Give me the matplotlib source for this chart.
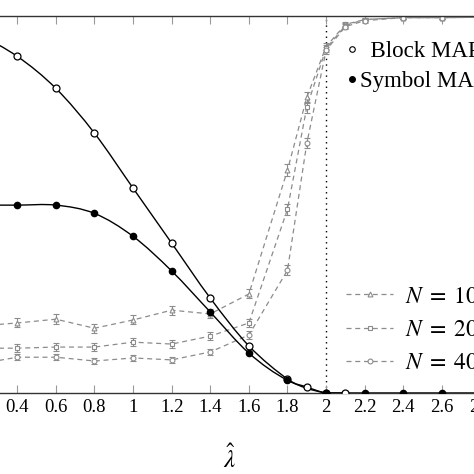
import numpy as np
import matplotlib
matplotlib.use('Agg')
import matplotlib.pyplot as plt
from matplotlib.path import Path
from matplotlib.patches import PathPatch
from matplotlib.lines import Line2D

plt.rcParams['font.family'] = ['Liberation Serif', 'DejaVu Serif']
plt.rcParams['mathtext.fontset'] = 'stix'

# theory curves
lam_block = [0.0, 0.2, 0.4, 0.6, 0.8, 1.0, 1.2, 1.4, 1.6, 1.8, 1.9, 2.0, 2.1]
block_map = [0.98, 0.95, 0.894, 0.809, 0.690, 0.544, 0.398, 0.252, 0.125, 0.037, 0.016, 0.0, 0.0]

lam_symbol = [0.0, 0.2, 0.4, 0.6, 0.8, 1.0, 1.2, 1.4, 1.6, 1.8, 2.0, 2.2, 2.4, 2.6, 2.8, 3.0]
symbol_map = [0.5, 0.499, 0.499, 0.499, 0.477, 0.416, 0.324, 0.215, 0.106, 0.034, 0.0, 0.0, 0.0, 0.0, 0.0, 0.0]

# simulations for N = 10, 20, 40
lam_sim = [0.2, 0.4, 0.6, 0.8, 1.0, 1.2, 1.4, 1.6, 1.8, 1.9, 2.0, 2.1, 2.2, 2.4, 2.6, 2.8]
err_n10 = [0.178, 0.186, 0.196, 0.172, 0.194, 0.220, 0.210, 0.263, 0.592, 0.785, 0.920, 0.979, 0.992, 0.997, 0.997, 0.998]
err_n20 = [0.119, 0.119, 0.122, 0.122, 0.135, 0.130, 0.151, 0.186, 0.488, 0.759, 0.915, 0.976, 0.992, 0.997, 0.997, 0.998]
err_n40 = [0.077, 0.095, 0.095, 0.085, 0.093, 0.088, 0.109, 0.154, 0.326, 0.663, 0.910, 0.973, 0.989, 0.997, 0.997, 0.998]
bar_n10 = [0.012, 0.012, 0.013, 0.012, 0.012, 0.012, 0.012, 0.012, 0.015, 0.015, 0.010, 0.006, 0.005, 0.003, 0.003, 0.003]
bar_n20 = [0.010, 0.010, 0.011, 0.011, 0.010, 0.010, 0.011, 0.011, 0.014, 0.014, 0.010, 0.006, 0.005, 0.003, 0.003, 0.003]
bar_n40 = [0.008, 0.008, 0.008, 0.008, 0.008, 0.008, 0.009, 0.010, 0.013, 0.013, 0.010, 0.006, 0.005, 0.003, 0.003, 0.003]
sim_labels = [r'$N\;=\;10$', r'$N\;=\;20$', r'$N\;=\;40$']


def smooth_path(x, y):
    # catmull-rom through the points, like pgfplots "smooth"
    pts = np.column_stack([x, y]).astype(float)
    n = len(pts)
    verts = [pts[0]]
    codes = [Path.MOVETO]
    for i in range(n - 1):
        p0 = pts[max(i - 1, 0)]
        p1 = pts[i]
        p2 = pts[i + 1]
        p3 = pts[min(i + 2, n - 1)]
        c1 = p1 + (p2 - p0) / 6
        c2 = p2 - (p3 - p1) / 6
        c1[1] = max(c1[1], 0)
        c2[1] = max(c2[1], 0)
        verts += [c1, c2, p2]
        codes += [Path.CURVE4] * 3
    return Path(verts, codes)


fig = plt.figure(figsize=(4.74, 4.74), dpi=100)
ax = fig.add_axes([-0.1264, 0.1709, 1.2215, 0.7943])
ax.set_xlim(0, 3)
ax.set_ylim(0, 1)

gray = '#8c8c8c'
dash = (0, (4, 3))
markers = ['^', 's', 'o']
for vals, bars, mk in zip([err_n10, err_n20, err_n40], [bar_n10, bar_n20, bar_n40], markers):
    ax.errorbar(lam_sim, vals, yerr=bars, fmt=mk, color=gray, mfc='white', mec=gray,
                ms=3.5, mew=0.8, elinewidth=0.8, capsize=2, capthick=0.8,
                ls=dash, lw=0.9, zorder=2)

ax.axvline(2.0, color='black', ls=(0, (1, 3)), lw=1.0, zorder=1)

ax.add_patch(PathPatch(smooth_path(lam_block, block_map), fc='none', ec='black', lw=1.0, zorder=3))
ax.add_patch(PathPatch(smooth_path(lam_symbol, symbol_map), fc='none', ec='black', lw=1.0, zorder=3))
ax.plot(lam_block, block_map, ls='none', marker='o', ms=5, mfc='white', mec='black', mew=0.9, zorder=4)
ax.plot(lam_symbol, symbol_map, ls='none', marker='o', ms=4.5, mfc='black', mec='black', zorder=5)

ticks = np.arange(0, 3.01, 0.2)
ax.set_xticks(ticks)
ax.set_xticklabels(['%g' % round(t, 1) for t in ticks])
ax.tick_params(axis='x', direction='in', top=True, length=6, width=0.8, color='#999999',
               labelsize=13.5, pad=4)
ax.tick_params(axis='y', left=False, labelleft=False)
for s in ['top', 'bottom']:
    ax.spines[s].set_linewidth(1.0)
    ax.spines[s].set_color('#333333')
ax.set_xlabel(r'$\hat{\lambda}$', fontsize=18, labelpad=21)

h1 = [Line2D([], [], ls='none', marker='o', ms=4, mfc='white', mec='black', mew=0.8),
      Line2D([], [], ls='none', marker='o', ms=4, mfc='black', mec='black')]
leg1 = ax.legend(h1, [' \u2009Block MAP', 'Symbol MAP'], loc='upper left', frameon=False,
                 bbox_to_anchor=(345 / 474, 1 - 41 / 474), bbox_transform=fig.transFigure,
                 fontsize=16.5, handlelength=0.6, handletextpad=0.05, labelspacing=0.4,
                 borderpad=0, borderaxespad=0)
ax.add_artist(leg1)

h2 = [Line2D([], [], color=gray, ls=dash, lw=0.9, marker=mk, ms=3.5, mfc='white', mec=gray, mew=0.8)
      for mk in markers]
ax.legend(h2, sim_labels, loc='upper left', frameon=False,
          bbox_to_anchor=(346 / 474, 1 - 286 / 474), bbox_transform=fig.transFigure,
          fontsize=17, handlelength=2.0, handletextpad=0.5, labelspacing=0.5,
          borderpad=0, borderaxespad=0)

fig.savefig('out.png', dpi=100)
